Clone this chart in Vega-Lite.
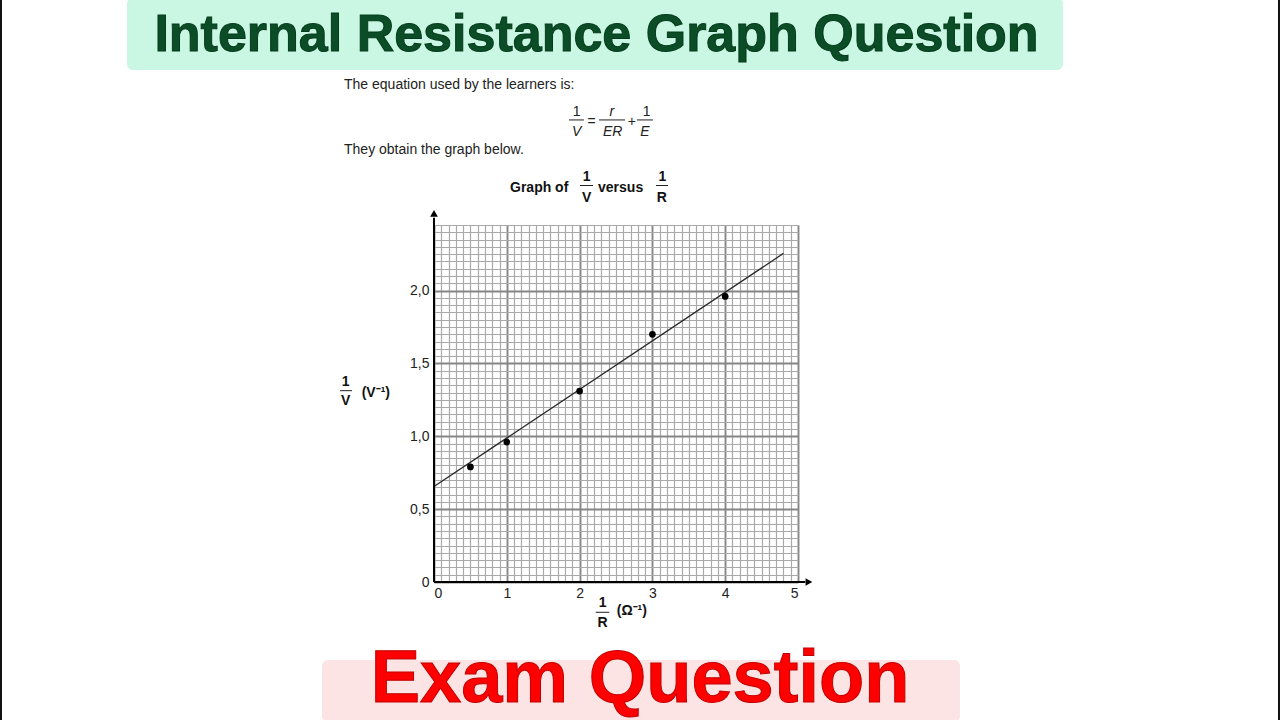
{
  "$schema": "https://vega.github.io/schema/vega-lite/v6.json",
  "width": 364,
  "height": 357,
  "autosize": {"type": "none"},
  "padding": {"left": 434, "top": 225, "right": 482, "bottom": 138},
  "background": "#ffffff",
  "config": {"view": {"stroke": null}, "font": "Liberation Sans"},
  "resolve": {"axis": {"x": "independent", "y": "independent"}},
  "layer": [
    {
      "data": {"values": [
        {"x": -4.217, "x2": 8.64, "y": 4.008, "y2": 3.514}
      ]},
      "mark": {"type": "rect", "color": "#c9f7e3", "cornerRadius": 6},
      "encoding": {
        "x": {"field": "x", "type": "quantitative", "scale": {"domain": [0, 5], "nice": false, "zero": false}, "axis": null},
        "x2": {"field": "x2"},
        "y": {"field": "y", "type": "quantitative", "scale": {"domain": [0, 2.45], "nice": false, "zero": false}, "axis": null},
        "y2": {"field": "y2"}
      }
    },
    {
      "data": {"values": [
        {"x": -1.538, "x2": 7.225, "y": -0.535, "y2": -0.961}
      ]},
      "mark": {"type": "rect", "color": "#fde4e4", "cornerRadius": 6},
      "encoding": {
        "x": {"field": "x", "type": "quantitative", "scale": {"domain": [0, 5], "nice": false, "zero": false}, "axis": null},
        "x2": {"field": "x2"},
        "y": {"field": "y", "type": "quantitative", "scale": {"domain": [0, 2.45], "nice": false, "zero": false}, "axis": null},
        "y2": {"field": "y2"}
      }
    },
    {
      "data": {"values": [
        {"x": -5.948, "y": 3.995, "x2": -5.948, "y2": -0.947},
        {"x": 11.607, "y": 3.995, "x2": 11.607, "y2": -0.947}
      ]},
      "mark": {"type": "rule", "color": "#111111", "strokeWidth": 2},
      "encoding": {
        "x": {"field": "x", "type": "quantitative", "scale": {"domain": [0, 5], "nice": false, "zero": false}, "axis": null},
        "x2": {"field": "x2"},
        "y": {"field": "y", "type": "quantitative", "scale": {"domain": [0, 2.45], "nice": false, "zero": false}, "axis": null},
        "y2": {"field": "y2"}
      }
    },
    {
      "data": {"values": [
        {"x": 2.232, "y": 3.644, "text": "Internal Resistance Graph Question"}
      ]},
      "mark": {"type": "text", "font": "Liberation Sans", "fontWeight": "bold", "fontSize": 52, "align": "center", "baseline": "alphabetic", "color": "#0a4d26", "stroke": "#063a1c", "strokeWidth": 1},
      "encoding": {
        "x": {"field": "x", "type": "quantitative", "scale": {"domain": [0, 5], "nice": false, "zero": false}, "axis": null},
        "y": {"field": "y", "type": "quantitative", "scale": {"domain": [0, 2.45], "nice": false, "zero": false}, "axis": null},
        "text": {"field": "text"}
      }
    },
    {
      "data": {"values": [
        {"x": 2.83, "y": -0.824, "text": "Exam Question"}
      ]},
      "mark": {"type": "text", "font": "Liberation Sans", "fontWeight": "bold", "fontSize": 74, "align": "center", "baseline": "alphabetic", "color": "#ff0000", "stroke": "#c00000", "strokeWidth": 1},
      "encoding": {
        "x": {"field": "x", "type": "quantitative", "scale": {"domain": [0, 5], "nice": false, "zero": false}, "axis": null},
        "y": {"field": "y", "type": "quantitative", "scale": {"domain": [0, 2.45], "nice": false, "zero": false}, "axis": null},
        "text": {"field": "text"}
      }
    },
    {
      "data": {"values": [
        {"x": -1.236, "y": 3.384, "text": "The equation used by the learners is:"},
        {"x": -1.236, "y": 2.935, "text": "They obtain the graph below."}
      ]},
      "mark": {"type": "text", "font": "Liberation Sans", "fontSize": 14, "align": "left", "baseline": "alphabetic", "color": "#222222"},
      "encoding": {
        "x": {"field": "x", "type": "quantitative", "scale": {"domain": [0, 5], "nice": false, "zero": false}, "axis": null},
        "y": {"field": "y", "type": "quantitative", "scale": {"domain": [0, 2.45], "nice": false, "zero": false}, "axis": null},
        "text": {"field": "text"}
      }
    },
    {
      "data": {"values": [
        {"x": 1.96, "y": 3.2, "text": "1"},
        {"x": 2.166, "y": 3.132, "text": "="},
        {"x": 2.716, "y": 3.132, "text": "+"},
        {"x": 2.922, "y": 3.2, "text": "1"}
      ]},
      "mark": {"type": "text", "font": "Liberation Sans", "fontSize": 14, "align": "center", "baseline": "alphabetic", "color": "#222222"},
      "encoding": {
        "x": {"field": "x", "type": "quantitative", "scale": {"domain": [0, 5], "nice": false, "zero": false}, "axis": null},
        "y": {"field": "y", "type": "quantitative", "scale": {"domain": [0, 2.45], "nice": false, "zero": false}, "axis": null},
        "text": {"field": "text"}
      }
    },
    {
      "data": {"values": [
        {"x": 1.96, "y": 3.063, "text": "V"},
        {"x": 2.441, "y": 3.2, "text": "r"},
        {"x": 2.455, "y": 3.063, "text": "ER"},
        {"x": 2.898, "y": 3.063, "text": "E"}
      ]},
      "mark": {"type": "text", "font": "Liberation Sans", "fontSize": 14, "fontStyle": "italic", "align": "center", "baseline": "alphabetic", "color": "#222222"},
      "encoding": {
        "x": {"field": "x", "type": "quantitative", "scale": {"domain": [0, 5], "nice": false, "zero": false}, "axis": null},
        "y": {"field": "y", "type": "quantitative", "scale": {"domain": [0, 2.45], "nice": false, "zero": false}, "axis": null},
        "text": {"field": "text"}
      }
    },
    {
      "data": {"values": [
        {"x": 1.044, "y": 2.679, "text": "Graph of"},
        {"x": 2.253, "y": 2.679, "text": "versus"},
        {"x": -0.993, "y": 1.272, "text": "(V⁻¹)"},
        {"x": 2.51, "y": -0.226, "text": "(Ω⁻¹)"}
      ]},
      "mark": {"type": "text", "font": "Liberation Sans", "fontSize": 14, "fontWeight": "bold", "align": "left", "baseline": "alphabetic", "color": "#111111"},
      "encoding": {
        "x": {"field": "x", "type": "quantitative", "scale": {"domain": [0, 5], "nice": false, "zero": false}, "axis": null},
        "y": {"field": "y", "type": "quantitative", "scale": {"domain": [0, 2.45], "nice": false, "zero": false}, "axis": null},
        "text": {"field": "text"}
      }
    },
    {
      "data": {"values": [
        {"x": 2.098, "y": 2.752, "text": "1"},
        {"x": 2.098, "y": 2.61, "text": "V"},
        {"x": 3.136, "y": 2.752, "text": "1"},
        {"x": 3.128, "y": 2.61, "text": "R"},
        {"x": -1.213, "y": 1.347, "text": "1"},
        {"x": -1.213, "y": 1.215, "text": "V"},
        {"x": 2.317, "y": -0.174, "text": "1"},
        {"x": 2.317, "y": -0.311, "text": "R"}
      ]},
      "mark": {"type": "text", "font": "Liberation Sans", "fontSize": 14, "fontWeight": "bold", "align": "center", "baseline": "alphabetic", "color": "#111111"},
      "encoding": {
        "x": {"field": "x", "type": "quantitative", "scale": {"domain": [0, 5], "nice": false, "zero": false}, "axis": null},
        "y": {"field": "y", "type": "quantitative", "scale": {"domain": [0, 2.45], "nice": false, "zero": false}, "axis": null},
        "text": {"field": "text"}
      }
    },
    {
      "data": {"values": [
        {"x": 1.854, "x2": 2.06, "y": 3.171},
        {"x": 2.266, "x2": 2.624, "y": 3.171},
        {"x": 2.788, "x2": 3.008, "y": 3.171},
        {"x": 2.005, "x2": 2.184, "y": 2.721},
        {"x": 3.049, "x2": 3.214, "y": 2.721},
        {"x": -1.291, "x2": -1.126, "y": 1.313},
        {"x": 2.221, "x2": 2.408, "y": -0.208}
      ]},
      "mark": {"type": "rule", "color": "#222222", "strokeWidth": 1},
      "encoding": {
        "x": {"field": "x", "type": "quantitative", "scale": {"domain": [0, 5], "nice": false, "zero": false}, "axis": null},
        "x2": {"field": "x2"},
        "y": {"field": "y", "type": "quantitative", "scale": {"domain": [0, 2.45], "nice": false, "zero": false}, "axis": null}
      }
    },
    {
      "data": {"values": [
        {"x": 0, "y": 0.655},
        {"x": 4.8, "y": 2.255}
      ]},
      "mark": {"type": "line", "color": "#2a2a2a", "strokeWidth": 1.3},
      "encoding": {
        "x": {"field": "x", "type": "quantitative", "scale": {"domain": [0, 5], "nice": false, "zero": false},
          "axis": {"orient": "bottom", "tickCount": 50, "grid": true, "gridColor": "#a9a9a9", "gridWidth": 1.2, "labels": false, "ticks": false, "domain": false, "title": null}},
        "y": {"field": "y", "type": "quantitative", "scale": {"domain": [0, 2.45], "nice": false, "zero": false},
          "axis": {"orient": "left", "tickCount": 49, "grid": true, "gridColor": "#a9a9a9", "gridWidth": 1.2, "labels": false, "ticks": false, "domain": false, "title": null}}
      }
    },
    {
      "data": {"values": [
        {"x": 0.5, "y": 0.79},
        {"x": 1, "y": 0.96},
        {"x": 2, "y": 1.31},
        {"x": 3, "y": 1.7},
        {"x": 4, "y": 1.96}
      ]},
      "mark": {"type": "point", "filled": true, "color": "#000000", "size": 45, "opacity": 1},
      "encoding": {
        "x": {"field": "x", "type": "quantitative", "scale": {"domain": [0, 5], "nice": false, "zero": false},
          "axis": {"orient": "bottom", "values": [0, 1, 2, 3, 4, 5], "grid": true, "gridColor": "#858585", "gridWidth": 1.8, "labels": true, "labelFont": "Liberation Sans", "labelFontSize": 14, "labelColor": "#222222", "labelPadding": 4, "ticks": false, "tickSize": 0, "domain": false, "title": null}},
        "y": {"field": "y", "type": "quantitative", "scale": {"domain": [0, 2.45], "nice": false, "zero": false},
          "axis": {"orient": "left", "values": [0, 0.5, 1, 1.5, 2], "grid": true, "gridColor": "#858585", "gridWidth": 1.8, "labels": true, "labelFont": "Liberation Sans", "labelFontSize": 14, "labelColor": "#222222", "labelPadding": 5, "ticks": false, "tickSize": 0, "domain": false, "title": null,
            "labelExpr": "datum.value == 0 ? '0' : replace(format(datum.value, '.1f'), '.', ',')"}}
      }
    },
    {
      "data": {"values": [
        {"x": 0, "y": 0, "x2": 0, "y2": 2.5},
        {"x": 0, "y": 0, "x2": 5.1, "y2": 0}
      ]},
      "mark": {"type": "rule", "color": "#000000", "strokeWidth": 2},
      "encoding": {
        "x": {"field": "x", "type": "quantitative", "scale": {"domain": [0, 5], "nice": false, "zero": false}, "axis": null},
        "x2": {"field": "x2"},
        "y": {"field": "y", "type": "quantitative", "scale": {"domain": [0, 2.45], "nice": false, "zero": false}, "axis": null},
        "y2": {"field": "y2"}
      }
    },
    {
      "data": {"values": [{"x": 0, "y": 2.53}]},
      "mark": {"type": "point", "shape": "triangle-up", "filled": true, "color": "#000000", "size": 60, "opacity": 1},
      "encoding": {
        "x": {"field": "x", "type": "quantitative", "scale": {"domain": [0, 5], "nice": false, "zero": false}, "axis": null},
        "y": {"field": "y", "type": "quantitative", "scale": {"domain": [0, 2.45], "nice": false, "zero": false}, "axis": null}
      }
    },
    {
      "data": {"values": [{"x": 5.15, "y": 0}]},
      "mark": {"type": "point", "shape": "triangle-right", "filled": true, "color": "#000000", "size": 60, "opacity": 1},
      "encoding": {
        "x": {"field": "x", "type": "quantitative", "scale": {"domain": [0, 5], "nice": false, "zero": false}, "axis": null},
        "y": {"field": "y", "type": "quantitative", "scale": {"domain": [0, 2.45], "nice": false, "zero": false}, "axis": null}
      }
    }
  ]
}
